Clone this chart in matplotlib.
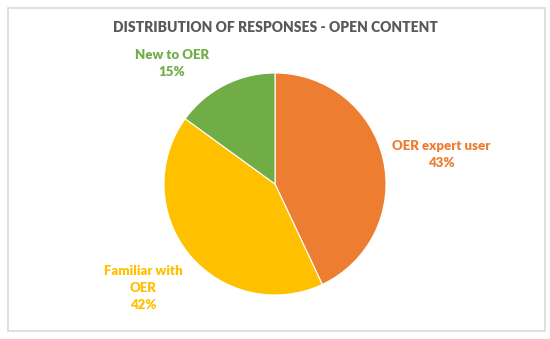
import matplotlib.pyplot as plt
from matplotlib.patches import Rectangle

labels = ['OER expert user', 'Familiar with\nOER', 'New to OER']
values = [43, 42, 15]
colors = ['#ED7D31', '#FFC000', '#70AD47']
# where each label block sits, in pie radius units
label_pos = [(1.50, 0.27), (-1.19, -0.94), (-0.93, 1.09)]

plt.rcParams['font.family'] = ['Lato', 'DejaVu Sans']

fig = plt.figure(figsize=(5.5, 3.39), dpi=100)

border = Rectangle((8 / 550, 8 / 339), 537 / 550, 323 / 339,
                   transform=fig.transFigure, facecolor='none',
                   edgecolor='#D9D9D9', linewidth=1.2, zorder=-1)
fig.patches.append(border)

ax = fig.add_axes([164 / 550, 44 / 339, 222 / 550, 222 / 339])
ax.pie(values, colors=colors, startangle=90, counterclock=False,
       wedgeprops=dict(edgecolor='white', linewidth=0.8))
ax.set_xlim(-1, 1)
ax.set_ylim(-1, 1)
ax.set_aspect('equal')

for lab, val, col, (x, y) in zip(labels, values, colors, label_pos):
    ax.text(x, y, f'{lab}\n{val}%', color=col, fontsize=9.5, fontweight='heavy',
            ha='center', va='center', linespacing=1.5, clip_on=False)

fig.text(0.5, 1 - 28 / 339, 'DISTRIBUTION OF RESPONSES - OPEN CONTENT',
         ha='center', va='center', fontsize=10, fontweight='heavy', color='#595959')

fig.savefig('out.png', dpi=100)
